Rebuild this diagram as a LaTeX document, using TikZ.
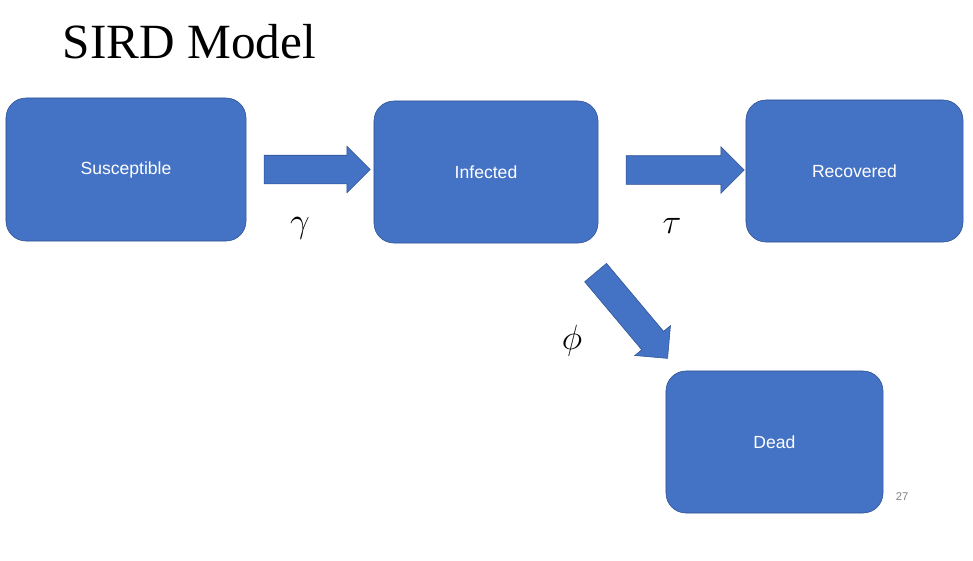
\documentclass[tikz,border=0pt]{standalone}
\usepackage{fontspec}
\setmainfont{Liberation Serif}
\newfontfamily\boxfont{Liberation Sans}
\usetikzlibrary{shapes.arrows}
\definecolor{boxblue}{HTML}{4472C4}
\definecolor{boxedge}{HTML}{2F528F}
\begin{document}
\begin{tikzpicture}[
    x=0.025cm, y=-0.025cm,
    state/.style={rectangle, draw=boxedge, fill=boxblue, rounded corners=0.5cm, text=white, font=\boxfont\fontsize{12.5}{14}\selectfont, inner sep=0pt},
    flow/.style={single arrow, draw=boxedge, fill=boxblue, minimum height=2.65cm, inner xsep=0pt, inner ysep=0.35cm, single arrow head extend=0.225cm, anchor=center},
    rate/.style={font=\fontsize{28}{30}\selectfont}
]
\useasboundingbox (0,0) rectangle (973,560);

% Title
\node[font=\fontsize{35}{38}\selectfont, anchor=west] (title) at (58,42) {SIRD Model};

% States
\node[state, minimum width=6cm, minimum height=3.575cm] (sus) at (126,169.5) {Susceptible};
\node[state, minimum width=5.6cm, minimum height=3.55cm] (inf) at (486,172) {Infected};
\node[state, minimum width=5.425cm, minimum height=3.55cm] (rec) at (854.5,171) {Recovered};
\node[state, minimum width=5.425cm, minimum height=3.55cm] (dead) at (774.5,442) {Dead};

% Flows
\node[flow] (f1) at (310,169.5) {};
\node[flow, minimum height=2.95cm] (f2) at (678,170) {};
\node[flow, rotate=-50, minimum height=2.8cm] (f3) at (627,310) {};

% Rates
\node[rate] (gamma) at (300,228) {$\gamma$};
\node[rate] (tau) at (672,226) {$\tau$};
\node[rate] (phi) at (572,341) {$\phi$};

% Page number
\node[font=\boxfont\fontsize{8}{9}\selectfont, text=gray] (page) at (902,497) {27};
\end{tikzpicture}
\end{document}
